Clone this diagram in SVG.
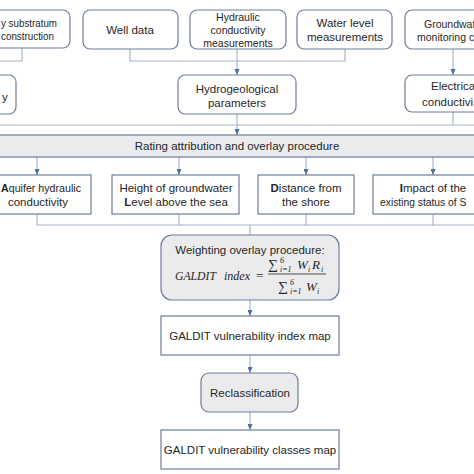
<svg xmlns="http://www.w3.org/2000/svg" width="474" height="474" viewBox="0 0 474 474">
<style>
.box{fill:#ffffff;stroke:#6e7c9c;stroke-width:1.2}
.gbox{fill:#ebebee;stroke:#6e7c9c;stroke-width:1.2}
.t{font-family:"Liberation Sans","Noto Sans",sans-serif;font-size:11.5px;fill:#262626}
.c{text-anchor:middle}
.b{font-weight:bold}
.m{font-family:"Liberation Serif","DejaVu Serif",serif;font-style:italic;fill:#262626}
.n{font-family:"Liberation Serif","DejaVu Serif",serif;fill:#262626}
.ln{fill:none;stroke:#a8b5ce;stroke-width:1.2}
.ar{fill:none;stroke:#a8b5ce;stroke-width:1.2;marker-end:url(#ah)}
</style>
<defs>
<marker id="ah" markerUnits="userSpaceOnUse" markerWidth="6" markerHeight="5" refX="6" refY="2.5" orient="auto">
<path d="M0,0 L6,2.5 L0,5 z" fill="#4f6fa8"/>
</marker>
</defs>
<rect width="474" height="474" fill="#ffffff"/>

<g id="connectors">
<path class="ln" d="M22,48 V61 H0"/>
<path class="ln" d="M130,49 V61 H345 V49"/>
<path class="ar" d="M237,49 V75"/>
<path class="ar" d="M453,49 V75"/>
<path class="ln" d="M0,125 H474"/>
<path class="ln" d="M453,112 V125"/>
<path class="ar" d="M237,114 V135"/>
<path class="ar" d="M37,157 V175"/>
<path class="ar" d="M179,157 V175"/>
<path class="ar" d="M306,157 V175"/>
<path class="ar" d="M433,157 V175"/>
<path class="ln" d="M37,214 V225 H474"/>
<path class="ln" d="M179,214 V225"/>
<path class="ln" d="M306,214 V225"/>
<path class="ln" d="M433,214 V225"/>
<path class="ln" d="M250,225 V235"/>
<path class="ar" d="M250,300 V316"/>
<path class="ar" d="M250,355 V373"/>
<path class="ar" d="M250,412 V430"/>
</g>

<g id="substratum">
<rect class="box" x="-40" y="10" width="110" height="38" rx="7"/>
<text class="t" x="1" y="27" textLength="56" lengthAdjust="spacingAndGlyphs">y substratum</text>
<text class="t" x="1" y="40" textLength="53" lengthAdjust="spacingAndGlyphs">construction</text>
</g>
<g id="well-data">
<rect class="box" x="83" y="10" width="95" height="39" rx="7"/>
<text class="t c" x="130" y="34">Well data</text>
</g>
<g id="hydraulic">
<rect class="box" x="190" y="10" width="96" height="39" rx="7"/>
<text class="t c" x="238" y="21" style="font-size:10.5px">Hydraulic</text>
<text class="t c" x="238" y="34" style="font-size:10.5px">conductivity</text>
<text class="t c" x="238" y="47" style="font-size:10.5px">measurements</text>
</g>
<g id="water-level">
<rect class="box" x="297" y="10" width="95" height="39" rx="7"/>
<text class="t c" x="345" y="27">Water level</text>
<text class="t c" x="345" y="41">measurements</text>
</g>
<g id="groundwater">
<rect class="box" x="405" y="10" width="100" height="39" rx="7"/>
<text class="t" x="424" y="28" style="font-size:10.5px">Groundwat</text>
<text class="t" x="417" y="41" style="font-size:10.5px">monitoring c</text>
</g>

<g id="left-y">
<rect class="box" x="-40" y="75" width="56" height="39" rx="7"/>
<text class="t" x="2" y="101">y</text>
</g>
<g id="hydrogeological">
<rect class="box" x="178" y="75" width="118" height="39" rx="7"/>
<text class="t c" x="237" y="93">Hydrogeological</text>
<text class="t c" x="237" y="107">parameters</text>
</g>
<g id="electrical">
<rect class="box" x="405" y="75" width="100" height="37" rx="7"/>
<text class="t" x="431" y="90">Electrica</text>
<text class="t" x="422" y="106">conductivi</text>
</g>

<g id="rating">
<rect class="gbox" x="-5" y="135" width="484" height="22"/>
<text class="t c" x="237" y="150">Rating attribution and overlay procedure</text>
</g>

<g id="aquifer">
<rect class="box" x="-20" y="175" width="111" height="39"/>
<text class="t" x="1" y="192" textLength="80" lengthAdjust="spacingAndGlyphs"><tspan class="b">A</tspan>quifer hydraulic</text>
<text class="t c" x="38" y="206">conductivity</text>
</g>
<g id="height">
<rect class="box" x="112" y="175" width="127" height="39"/>
<text class="t c" x="176" y="192">Height of groundwater</text>
<text class="t c" x="176" y="206"><tspan class="b">L</tspan>evel above the sea</text>
</g>
<g id="distance">
<rect class="box" x="258" y="175" width="96" height="39"/>
<text class="t c" x="306" y="192"><tspan class="b">D</tspan>istance from</text>
<text class="t c" x="306" y="206">the shore</text>
</g>
<g id="impact">
<rect class="box" x="373" y="175" width="130" height="39"/>
<text class="t c" x="433" y="192"><tspan class="b">I</tspan>mpact of the</text>
<text class="t" x="380" y="206" style="font-size:10.3px">existing status of S</text>
</g>

<g id="weighting">
<rect class="gbox" x="161" y="235" width="178" height="65" rx="11"/>
<text class="t c" x="250" y="254">Weighting overlay procedure:</text>
<text class="m" x="175" y="280" style="font-size:13px" textLength="41" lengthAdjust="spacingAndGlyphs">GALDIT</text>
<text class="m" x="224" y="280" style="font-size:13px" textLength="26" lengthAdjust="spacingAndGlyphs">index</text>
<text class="n" x="256" y="280" style="font-size:13px">=</text>
<text class="n" x="268" y="269" style="font-size:14px">∑</text>
<text class="m" x="280" y="263" style="font-size:8px">6</text>
<text class="m" x="280" y="272" style="font-size:8px">i=1</text>
<text class="m" x="297" y="269" style="font-size:13px">W</text>
<text class="m" x="308" y="272" style="font-size:8px">i</text>
<text class="m" x="312" y="269" style="font-size:13px">R</text>
<text class="m" x="321" y="272" style="font-size:8px">i</text>
<line x1="268" y1="274" x2="326" y2="274" stroke="#262626" stroke-width="0.8"/>
<text class="n" x="278" y="291" style="font-size:14px">∑</text>
<text class="m" x="290" y="285" style="font-size:8px">6</text>
<text class="m" x="290" y="294" style="font-size:8px">i=1</text>
<text class="m" x="306" y="291" style="font-size:13px">W</text>
<text class="m" x="317" y="294" style="font-size:8px">i</text>
</g>

<g id="index-map">
<rect class="box" x="161" y="316" width="178" height="39"/>
<text class="t c" x="250" y="340">GALDIT vulnerability index map</text>
</g>
<g id="reclassification">
<rect class="gbox" x="201" y="373" width="97" height="39" rx="8"/>
<text class="t c" x="250" y="397">Reclassification</text>
</g>
<g id="classes-map">
<rect class="box" x="161" y="430" width="178" height="39"/>
<text class="t c" x="250" y="454">GALDIT vulnerability classes map</text>
</g>
</svg>
